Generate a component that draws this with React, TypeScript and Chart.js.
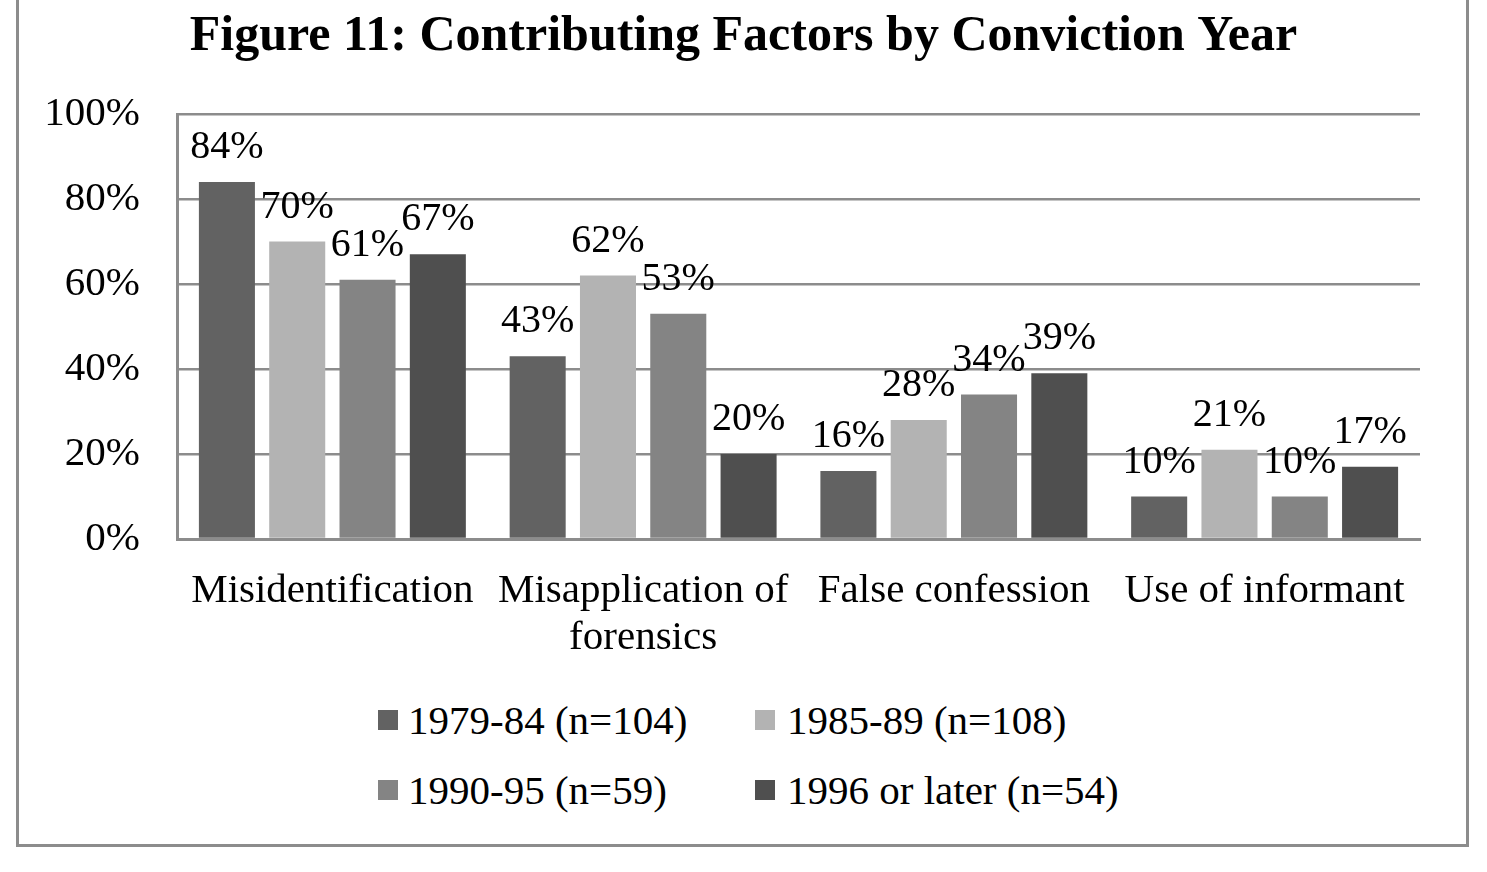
// Grouped bar chart: contributing factors by conviction year
import { useEffect, useRef } from 'react'
import { Chart, registerables } from 'chart.js'

Chart.register(...registerables)

const FONT = '"Liberation Serif", "Times New Roman", serif'
const GRID = '#8c8c8c'

const TITLE = 'Figure 11: Contributing Factors by Conviction Year'
const categories = [
  'Misidentification',
  ['Misapplication of', 'forensics'],
  'False confession',
  'Use of informant'
]
const seriesNames = ['1979-84 (n=104)', '1985-89 (n=108)', '1990-95 (n=59)', '1996 or later (n=54)']
const seriesColors = ['#626262', '#b3b3b3', '#848484', '#4f4f4f']
const early80s = [84, 43, 16, 10]
const late80s = [70, 62, 28, 21]
const early90s = [61, 53, 34, 10]
const later = [67, 20, 39, 17]
const yTicks = [0, 20, 40, 60, 80, 100]

const seriesValues = [early80s, late80s, early90s, later]

// draws the percentage above each bar
const valueLabels = {
  id: 'valueLabels',
  afterDatasetsDraw(chart: Chart) {
    const ctx = chart.ctx
    ctx.save()
    ctx.font = `40px ${FONT}`
    ctx.fillStyle = '#000'
    ctx.textAlign = 'center'
    ctx.textBaseline = 'alphabetic'
    chart.data.datasets.forEach((ds, i) => {
      const meta = chart.getDatasetMeta(i)
      meta.data.forEach((bar: any, j) => {
        ctx.fillText(`${ds.data[j]}%`, bar.x, bar.y - 24)
      })
    })
    ctx.restore()
  }
}

const BarChart = () => {
  const canvasRef = useRef<HTMLCanvasElement>(null)

  useEffect(() => {
    if (!canvasRef.current) return
    const chart = new Chart(canvasRef.current, {
      type: 'bar',
      data: {
        labels: categories,
        datasets: seriesValues.map((values, i) => ({
          label: seriesNames[i],
          data: values,
          backgroundColor: seriesColors[i],
          categoryPercentage: 0.905,
          barPercentage: 0.797
        }))
      },
      options: {
        responsive: true,
        maintainAspectRatio: false,
        animation: false,
        layout: { padding: 0 },
        plugins: {
          legend: { display: false },
          tooltip: { enabled: false },
          title: {
            display: true,
            text: TITLE,
            color: '#000',
            font: { family: FONT, size: 50, weight: 'bold', lineHeight: 1.2 },
            padding: { top: 7, bottom: 47 }
          }
        },
        scales: {
          x: {
            grid: { display: false },
            border: { display: true, color: GRID, width: 3 },
            ticks: {
              color: '#000',
              font: { family: FONT, size: 41, lineHeight: 1.15 },
              padding: 21,
              maxRotation: 0,
              autoSkip: false
            },
            afterFit: (scale: any) => { scale.height = 141 }
          },
          y: {
            min: 0,
            max: 100,
            afterBuildTicks: (scale: any) => { scale.ticks = yTicks.map(v => ({ value: v })) },
            grid: { color: GRID, lineWidth: 2.5, drawTicks: false },
            border: { display: true, color: GRID, width: 3 },
            ticks: {
              color: '#000',
              font: { family: FONT, size: 41 },
              padding: 37,
              callback: (v: any) => `${v}%`
            },
            afterFit: (scale: any) => { scale.width = 177 }
          },
          // empty right axis only reserves the margin on the right
          spacer: {
            position: 'right',
            display: true,
            grid: { display: false },
            border: { display: false },
            ticks: { display: false },
            afterFit: (scale: any) => { scale.width = 67 }
          }
        }
      },
      plugins: [valueLabels]
    })
    return () => chart.destroy()
  }, [])

  return (
    <div style={{ position: 'absolute', left: 0, top: 0, width: 1487, height: 680 }}>
      <canvas ref={canvasRef} aria-label={TITLE} />
    </div>
  )
}

const legendPos = [
  { swatch: 378, text: 408, y: 720 },
  { swatch: 755, text: 787, y: 720 },
  { swatch: 378, text: 408, y: 790 },
  { swatch: 755, text: 787, y: 790 }
]

const App = () => (
  <div style={{ position: 'absolute', left: 0, top: 0, width: 1487, height: 872, background: '#fff', fontFamily: FONT }}>
    <div
      style={{
        position: 'absolute',
        left: 16,
        top: -10,
        width: 1447,
        height: 854,
        border: `3px solid ${GRID}`,
        borderTop: 'none'
      }}
    />
    <BarChart />
    {seriesNames.map((name, i) => (
      <div key={name}>
        <div
          style={{
            position: 'absolute',
            left: legendPos[i].swatch,
            top: legendPos[i].y - 10,
            width: 20,
            height: 20,
            background: seriesColors[i]
          }}
        />
        <div
          style={{
            position: 'absolute',
            left: legendPos[i].text,
            top: legendPos[i].y - 24,
            height: 48,
            lineHeight: '48px',
            fontSize: 41,
            color: '#000',
            whiteSpace: 'nowrap'
          }}
        >
          {name}
        </div>
      </div>
    ))}
  </div>
)

export default App
